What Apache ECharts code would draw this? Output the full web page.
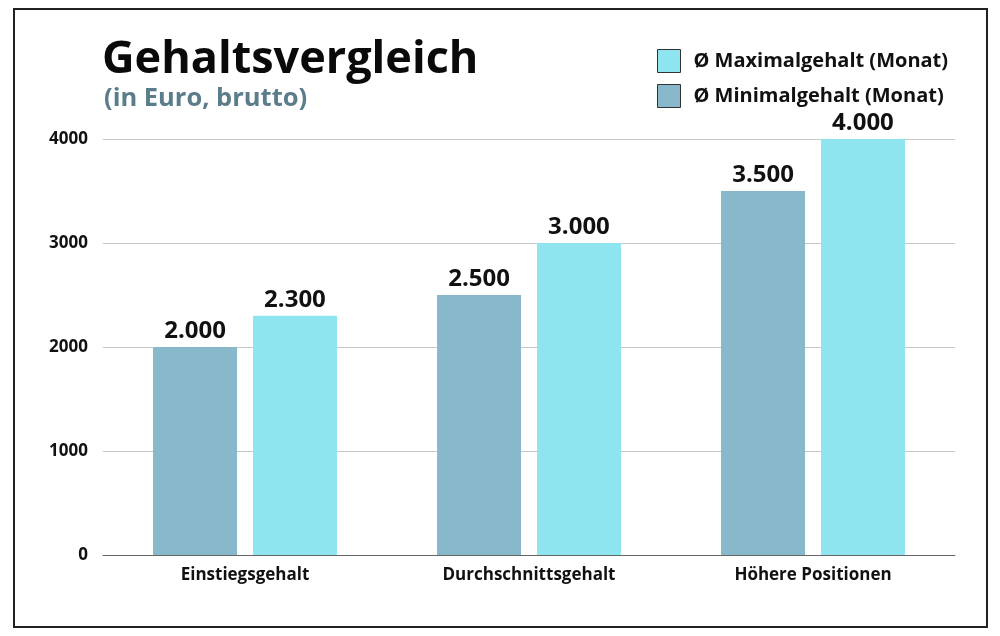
<!DOCTYPE html>
<html>
<head>
<meta charset="utf-8">
<script src="https://cdn.jsdelivr.net/npm/echarts@6/dist/echarts.min.js"></script>
<style>
  html, body { margin: 0; padding: 0; background: #fff; }
  #chart { width: 1000px; height: 636px; }
</style>
</head>
<body>
<div id="chart"></div>
<script>
const categories = ['Einstiegsgehalt', 'Durchschnittsgehalt', 'Höhere Positionen'];
const minGehalt = [2000, 2500, 3500];
const maxGehalt = [2300, 3000, 4000];
const yTicks = [0, 1000, 2000, 3000, 4000];

const nameMax = 'Ø Maximalgehalt (Monat)';
const nameMin = 'Ø Minimalgehalt (Monat)';
const font = 'Open Sans';

function formatDe(v) {
    return String(v).replace(/\B(?=(\d{3})+(?!\d))/g, '.');
}

let chartDom = document.getElementById('chart');
let myChart = echarts.init(chartDom);

let valueLabel = {
    show: true,
    position: 'top',
    distance: 4,
    fontFamily: font,
    fontWeight: 'bold',
    fontSize: 24,
    color: '#111',
    formatter: function (p) { return formatDe(p.value); }
};

let option = {
    backgroundColor: '#fff',
    textStyle: { fontFamily: font },
    graphic: [{
        type: 'rect',
        shape: { x: 14, y: 9, width: 973, height: 618 },
        style: { fill: 'none', stroke: '#222', lineWidth: 2 },
        z: 100
    }],
    title: [{
        text: 'Gehaltsvergleich',
        left: 97,
        top: 33,
        textStyle: { fontFamily: font, fontWeight: 'bold', fontSize: 45, color: '#0a0a0a' }
    }, {
        text: '(in Euro, brutto)',
        left: 99,
        top: 81,
        textStyle: { fontFamily: font, fontWeight: 'bold', fontSize: 25.5, color: '#5b7d8b' }
    }],
    legend: {
        orient: 'vertical',
        left: 652,
        top: 44,
        itemWidth: 23,
        itemHeight: 23,
        itemGap: 11,
        icon: 'rect',
        data: [nameMax, nameMin],
        itemStyle: { borderColor: '#333', borderWidth: 1 },
        textStyle: { fontFamily: font, fontWeight: 'bold', fontSize: 20, color: '#111', padding: [0, 0, 0, 8] }
    },
    grid: { left: 103, right: 45, top: 139, bottom: 81 },
    xAxis: {
        type: 'category',
        data: categories,
        axisTick: { show: false },
        axisLine: { lineStyle: { color: '#666', width: 1 } },
        axisLabel: { margin: 12, fontFamily: font, fontWeight: 'bold', fontSize: 17, color: '#111' }
    },
    yAxis: {
        type: 'value',
        min: yTicks[0],
        max: yTicks[yTicks.length - 1],
        interval: 1000,
        axisLine: { show: false },
        axisTick: { show: false },
        splitLine: { lineStyle: { color: '#c8c8c8' } },
        axisLabel: {
            margin: 15, fontFamily: font, fontWeight: 'bold', fontSize: 17, color: '#111',
            formatter: function (v) { return String(v); }
        }
    },
    series: [{
        name: nameMin,
        type: 'bar',
        data: minGehalt,
        barWidth: 84,
        barGap: '19%',
        itemStyle: { color: '#8ab8cb' },
        label: valueLabel
    }, {
        name: nameMax,
        type: 'bar',
        data: maxGehalt,
        barWidth: 84,
        barGap: '19%',
        itemStyle: { color: '#8ee5f0' },
        label: valueLabel
    }]
};

option && myChart.setOption(option);
</script>
</body>
</html>
